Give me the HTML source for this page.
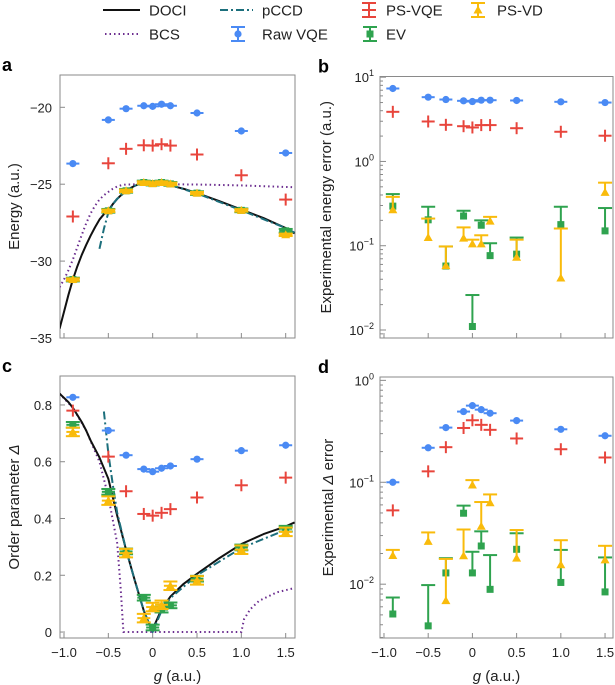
<!DOCTYPE html>
<html><head><meta charset="utf-8"><style>
html,body{margin:0;padding:0;background:#fff}
svg{display:block;font-family:"Liberation Sans",sans-serif}
</style></head><body>
<svg id="fig" width="615" height="685" viewBox="0 0 615 685" xmlns="http://www.w3.org/2000/svg"></svg>
<script>
const gVals=[-0.9,-0.5,-0.3,-0.1,0,0.1,0.2,0.5,1.0,1.5];
// panel a energies
const aRaw=[-23.66,-20.82,-20.09,-19.9,-19.94,-19.8,-19.9,-20.37,-21.54,-22.97];
const aPSVQE=[-27.1,-23.64,-22.7,-22.47,-22.49,-22.4,-22.49,-23.07,-24.42,-26.0];
const aEV=[-31.2,-26.73,-25.43,-24.89,-24.96,-24.89,-24.98,-25.58,-26.7,-28.03];
const aPSVD=[-31.2,-26.73,-25.43,-24.89,-24.96,-24.89,-24.98,-25.58,-26.7,-28.29];
const aDociG=[-1.05,-1.0,-0.95,-0.9,-0.85,-0.8,-0.75,-0.7,-0.65,-0.6,-0.55,-0.5,-0.45,-0.4,-0.35,-0.3,-0.25,-0.2,-0.15,-0.1,-0.05,0,0.1,0.2,0.35,0.5,0.75,1.0,1.25,1.5,1.6];
const aDociE=[-34.4,-33.3,-32.2,-31.2,-30.35,-29.6,-28.95,-28.35,-27.8,-27.3,-26.95,-26.7,-26.3,-25.95,-25.68,-25.45,-25.25,-25.1,-24.98,-24.92,-24.92,-24.95,-25.0,-25.08,-25.3,-25.58,-26.1,-26.65,-27.2,-27.85,-28.2];
const aPccdG=[-0.6,-0.55,-0.5,-0.45,-0.4,-0.3,-0.2,-0.1,0,0.2,0.5,1.0,1.5,1.6];
const aPccdE=[-29.2,-27.9,-26.85,-26.3,-25.95,-25.45,-25.1,-24.92,-24.95,-25.05,-25.6,-26.7,-27.85,-28.15];
const aBcsG=[-1.05,-1.0,-0.95,-0.9,-0.85,-0.8,-0.75,-0.7,-0.65,-0.6,-0.55,-0.5,-0.45,-0.4,-0.35,-0.3,0,0.5,1.0,1.6];
const aBcsE=[-31.7,-31.2,-30.6,-29.9,-29.1,-28.3,-27.55,-26.9,-26.4,-26.0,-25.72,-25.5,-25.3,-25.15,-25.06,-25.02,-25.0,-25.02,-25.08,-25.2];
// panel b energy errors
const bRaw=[7.34,5.79,5.43,5.24,5.14,5.33,5.33,5.29,5.1,5.0];
const bPSVQE=[3.88,2.98,2.72,2.62,2.53,2.7,2.7,2.48,2.25,2.02];
const bEV=[0.295,0.203,0.0574,0.225,0.011,0.175,0.0763,0.0794,0.178,0.15];
const bEVup=[0.41,0.29,0.098,0.26,0.026,0.2,0.107,0.125,0.29,0.28];
const bPSVD=[0.267,0.125,0.058,0.123,0.105,0.105,0.196,0.073,0.0414,0.43];
const bPSVDup=[0.38,0.21,0.098,0.165,0.118,0.133,0.22,0.118,0.16,0.56];
// panel c order parameter
const cRaw=[0.827,0.71,0.623,0.574,0.565,0.577,0.585,0.609,0.639,0.658];
const cPSVQE=[0.78,0.618,0.496,0.416,0.41,0.42,0.433,0.474,0.517,0.544];
const cEV=[0.73,0.494,0.284,0.121,0.016,0.079,0.094,0.188,0.298,0.364];
const cPSVD=[0.705,0.463,0.278,0.049,0.088,0.096,0.163,0.182,0.29,0.353];
const cDociG=[-1.05,-0.95,-0.9,-0.8,-0.75,-0.7,-0.6,-0.5,-0.4,-0.3,-0.2,-0.1,-0.05,0,0.05,0.1,0.2,0.35,0.5,0.75,1.0,1.25,1.5,1.6];
const cDociD=[0.84,0.81,0.79,0.74,0.71,0.675,0.615,0.54,0.41,0.29,0.18,0.075,0.035,0.01,0.045,0.08,0.125,0.17,0.205,0.26,0.31,0.345,0.372,0.386];
const cPccdG=[-0.55,-0.5,-0.45,-0.4,-0.3,-0.2,-0.1,0,0.1,0.2,0.5,1.0,1.5,1.6];
const cPccdD=[0.777,0.63,0.52,0.42,0.29,0.18,0.075,0.0,0.075,0.12,0.2,0.296,0.36,0.375];
const cBcsG=[-1.05,-0.9,-0.75,-0.6,-0.5,-0.4,-0.36,-0.33,0,1.0,1.03,1.1,1.2,1.4,1.6];
const cBcsD=[0.84,0.79,0.71,0.6,0.477,0.313,0.15,0,0,0,0.045,0.08,0.11,0.14,0.155];
// panel d order parameter errors
const dRaw=[0.1,0.218,0.344,0.494,0.565,0.516,0.476,0.403,0.331,0.286];
const dPSVQE=[0.053,0.128,0.221,0.341,0.406,0.366,0.327,0.269,0.211,0.175];
const dEV=[0.0051,0.0039,0.0129,0.0497,0.0129,0.0237,0.0089,0.022,0.0104,0.0084];
const dEVup=[0.0074,0.0098,0.018,0.059,0.0208,0.033,0.0193,0.0316,0.0217,0.0183];
const dPSVD=[0.0191,0.0263,0.0069,0.019,0.094,0.037,0.063,0.018,0.0155,0.0173];
const dPSVDup=[0.0217,0.0322,0.0177,0.0344,0.105,0.064,0.076,0.034,0.027,0.0238];
const xTicks=[-1.0,-0.5,0,0.5,1.0,1.5];
const xTickLabels=["\u22121.0","\u22120.5","0","0.5","1.0","1.5"];

const C={blue:"#4a8af4",red:"#e8453c",green:"#2fa34f",yellow:"#f9bb0b",black:"#111",teal:"#1c6f7c",purple:"#6b2d8f",axis:"#8a8a8a",text:"#222"};
const NS="http://www.w3.org/2000/svg";
const svg=document.getElementById("fig");
function el(tag,attrs,parent,text){const e=document.createElementNS(NS,tag);for(const k in attrs)e.setAttribute(k,attrs[k]);if(text!==undefined)e.textContent=text;(parent||svg).appendChild(e);return e;}

function makePanel(o){
  const g=el("g",{});
  
  
  const sx=v=>o.L+(v-o.x0)/(o.x1-o.x0)*(o.R-o.L);
  const sy=o.log?(v=>o.B-(Math.log10(v)-o.y0)/(o.y1-o.y0)*(o.B-o.T)):(v=>o.B-(v-o.y0)/(o.y1-o.y0)*(o.B-o.T));
  const fr=el("rect",{x:o.L,y:o.T,width:o.R-o.L,height:o.B-o.T,fill:"none",stroke:C.axis,"stroke-width":1},g);
  
  
  const xa=el("g",{},g);
  
  
  xTicks.forEach((t,i)=>{const x=sx(t);el("line",{x1:x,x2:x,y1:o.B,y2:o.B-5,stroke:C.axis},xa);
    if(o.xlabels){const tl=el("text",{x:x,y:o.B+19,"text-anchor":"middle","font-size":13,fill:C.text},xa,xTickLabels[i]);
      
      }});
  const ya=el("g",{},g);
  
  
  if(o.log){
    for(let e=Math.floor(o.y0);e<=Math.ceil(o.y1);e++){
      for(let m=1;m<10;m++){const v=m*Math.pow(10,e);const lv=Math.log10(v);if(lv<o.y0||lv>o.y1)continue;const y=sy(v);
        el("line",{x1:o.L,x2:o.L+(m==1?6:3),y1:y,y2:y,stroke:C.axis},ya);
        if(m==1){const t=el("text",{x:o.L-6,y:y+5,"text-anchor":"end","font-size":13,fill:C.text},ya);
          
          
          el("tspan",{},t,"10");el("tspan",{dy:-6,"font-size":9},t,e<0?"\u2212"+(-e):String(e));}}}
  } else {
    o.yTicks.forEach((t,i)=>{const y=sy(t);el("line",{x1:o.L,x2:o.L+5,y1:y,y2:y,stroke:C.axis},ya);
      const tl=el("text",{x:o.L-8,y:y+5,"text-anchor":"end","font-size":13,fill:C.text},ya,o.yTickLabels[i]);
      
      });
  }
  const yl=el("text",{transform:`translate(${o.ylx},${(o.T+o.B)/2}) rotate(-90)`,"text-anchor":"middle","font-size":15,fill:C.text},g);
  
  
  o.ylabel(yl);
  const pl=el("text",{x:o.letterX,y:o.T-4,"font-size":18,"font-weight":"bold",fill:"#000"},g,o.letter);
  
  
  if(o.xlabels){const xt=el("text",{x:(o.L+o.R)/2,y:o.B+43,"text-anchor":"middle","font-size":15,fill:C.text},g);
    
    
    el("tspan",{"font-style":"italic"},xt,"g");el("tspan",{},xt," (a.u.)");}
  const clipId="clip"+o.letter;
  const cp=el("clipPath",{id:clipId},g);el("rect",{x:o.L,y:o.T,width:o.R-o.L,height:o.B-o.T},cp);
  const plot=el("g",{"clip-path":`url(#${clipId})`},g);
  return {g,plot,sx,sy};
}
function curve(P,xs,ys,col,dash,w,name){
  const d=xs.map((x,i)=>(i?"L":"M")+P.sx(x).toFixed(2)+","+P.sy(ys[i]).toFixed(2)).join("");
  const p=el("path",{d:d,fill:"none",stroke:col,"stroke-width":w,"stroke-dasharray":dash||"none","stroke-linejoin":"round"},P.plot);
  
  
}
function marker(parent,shape,x,y,col){
  if(shape=="circle")el("circle",{cx:x,cy:y,r:3.6,fill:col},parent);
  else if(shape=="square")el("rect",{x:x-3.5,y:y-3.5,width:7,height:7,fill:col},parent);
  else if(shape=="tri")el("polygon",{points:`${x-4.5},${y+3.5} ${x+4.5},${y+3.5} ${x},${y-4.5}`,fill:col},parent);
}
function series(P,vals,col,shape,name,opt){
  opt=opt||{};
  const grp=el("g",{},P.plot);
  
  
  vals.forEach((v,i)=>{
    const x=P.sx(gVals[i]),y=P.sy(v);
    const pt=el("g",{},grp);
    
    
    if(opt.hbar)el("line",{x1:x-6.5,x2:x+6.5,y1:y,y2:y,stroke:col,"stroke-width":2},pt);
    if(shape=="plus")el("line",{x1:x,x2:x,y1:y-6,y2:y+6,stroke:col,"stroke-width":2},pt);
    if(opt.up){const yu=P.sy(opt.up[i]);el("line",{x1:x,x2:x,y1:y,y2:yu,stroke:col,"stroke-width":2},pt);el("line",{x1:x-7,x2:x+7,y1:yu,y2:yu,stroke:col,"stroke-width":2},pt);}
    if(opt.sym){const e=opt.sym;const y1=P.sy(v+e),y2=P.sy(v-e);
      el("line",{x1:x,x2:x,y1:y1,y2:y2,stroke:col,"stroke-width":2},pt);
      el("line",{x1:x-7,x2:x+7,y1:y1,y2:y1,stroke:col,"stroke-width":2},pt);
      el("line",{x1:x-7,x2:x+7,y1:y2,y2:y2,stroke:col,"stroke-width":2},pt);}
    marker(pt,shape,x,y,col);
  });
}

// Panel a
const A=makePanel({name:"panel-a-energy",letter:"a",letterX:2,L:60,R:295,T:75,B:338,x0:-1.045,x1:1.605,y0:-35,y1:-17.9,
  yTicks:[-20,-25,-30,-35],yTickLabels:["\u221220","\u221225","\u221230","\u221235"],ylx:19,
  ylabel:t=>{t.textContent="Energy (a.u.)";}});
curve(A,aBcsG,aBcsE,C.purple,"1.5,3",2,"bcs-curve");
curve(A,aDociG,aDociE,C.black,null,2,"doci-curve");
curve(A,aPccdG,aPccdE,C.teal,"8,3,2,3",2,"pccd-curve");
series(A,aRaw,C.blue,"circle","raw-vqe",{hbar:1});
series(A,aPSVQE,C.red,"plus","ps-vqe",{hbar:1});
series(A,aEV,C.green,"square","ev",{hbar:1,sym:0.12});
series(A,aPSVD,C.yellow,"tri","ps-vd",{hbar:1,sym:0.08});

// Panel b
const Bp=makePanel({name:"panel-b-energy-error",letter:"b",letterX:318,L:380,R:613,T:76.5,B:338,x0:-1.045,x1:1.59,y0:-2.095,y1:1.008,log:true,ylx:331,
  ylabel:t=>{t.textContent="Experimental energy error (a.u.)";}});
series(Bp,bRaw,C.blue,"circle","raw-vqe",{hbar:1});
series(Bp,bPSVQE,C.red,"plus","ps-vqe",{hbar:1});
series(Bp,bEV,C.green,"square","ev",{up:bEVup});
series(Bp,bPSVD,C.yellow,"tri","ps-vd",{up:bPSVDup});

// Panel c
const Cp=makePanel({name:"panel-c-order-parameter",letter:"c",letterX:2,L:60,R:295,T:376,B:638,x0:-1.045,x1:1.605,y0:-0.021,y1:0.902,xlabels:true,
  yTicks:[0,0.2,0.4,0.6,0.8],yTickLabels:["0","0.2","0.4","0.6","0.8"],ylx:19,
  ylabel:t=>{el("tspan",{},t,"Order parameter ");el("tspan",{"font-style":"italic"},t,"\u0394");}});
curve(Cp,cBcsG,cBcsD,C.purple,"1.5,3",2,"bcs-curve");
curve(Cp,cDociG,cDociD,C.black,null,2,"doci-curve");
curve(Cp,cPccdG,cPccdD,C.teal,"8,3,2,3",2,"pccd-curve");
series(Cp,cRaw,C.blue,"circle","raw-vqe",{hbar:1});
series(Cp,cPSVQE,C.red,"plus","ps-vqe",{hbar:1});
series(Cp,cEV,C.green,"square","ev",{hbar:1,sym:0.01});
series(Cp,cPSVD,C.yellow,"tri","ps-vd",{hbar:1,sym:0.015});

// Panel d
const Dp=makePanel({name:"panel-d-order-error",letter:"d",letterX:318,L:380,R:613,T:377,B:638,x0:-1.045,x1:1.59,y0:-2.528,y1:0.033,log:true,xlabels:true,ylx:333,
  ylabel:t=>{el("tspan",{},t,"Experimental ");el("tspan",{"font-style":"italic"},t,"\u0394");el("tspan",{},t," error");}});
series(Dp,dRaw,C.blue,"circle","raw-vqe",{hbar:1});
series(Dp,dPSVQE,C.red,"plus","ps-vqe",{hbar:1});
series(Dp,dEV,C.green,"square","ev",{up:dEVup});
series(Dp,dPSVD,C.yellow,"tri","ps-vd",{up:dPSVDup});

// Legend
const lg=el("g",{});


function legEntry(name,label,tx,ty,draw){
  const e=el("g",{},lg);
  
  
  draw(e);
  el("text",{x:tx,y:ty+5.5,"font-size":15,fill:C.text},e,label);
}
function legErr(e,x,y,col,shape){
  el("line",{x1:x,x2:x,y1:y-7,y2:y+7,stroke:col,"stroke-width":2},e);
  el("line",{x1:x-7,x2:x+7,y1:y-7,y2:y-7,stroke:col,"stroke-width":2},e);
  el("line",{x1:x-7,x2:x+7,y1:y+7,y2:y+7,stroke:col,"stroke-width":2},e);
  if(shape=="plus")el("line",{x1:x-7,x2:x+7,y1:y,y2:y,stroke:col,"stroke-width":2},e);
  else marker(e,shape,x,y,col);
}
legEntry("legend-doci","DOCI",149,10,e=>el("line",{x1:103,x2:140,y1:10,y2:10,stroke:C.black,"stroke-width":2},e));
legEntry("legend-pccd","pCCD",262,10,e=>el("line",{x1:220,x2:253,y1:10,y2:10,stroke:C.teal,"stroke-width":2,"stroke-dasharray":"8,3,2,3"},e));
legEntry("legend-ps-vqe","PS-VQE",386,10,e=>legErr(e,369,10,C.red,"plus"));
legEntry("legend-ps-vd","PS-VD",497,10,e=>legErr(e,478,10,C.yellow,"tri"));
legEntry("legend-bcs","BCS",149,34,e=>el("line",{x1:105,x2:138,y1:34,y2:34,stroke:C.purple,"stroke-width":2,"stroke-dasharray":"1.5,3"},e));
legEntry("legend-raw-vqe","Raw VQE",262,34,e=>legErr(e,238,34,C.blue,"circle"));
legEntry("legend-ev","EV",386,34,e=>legErr(e,370,34,C.green,"square"));
</script>
</body></html>
